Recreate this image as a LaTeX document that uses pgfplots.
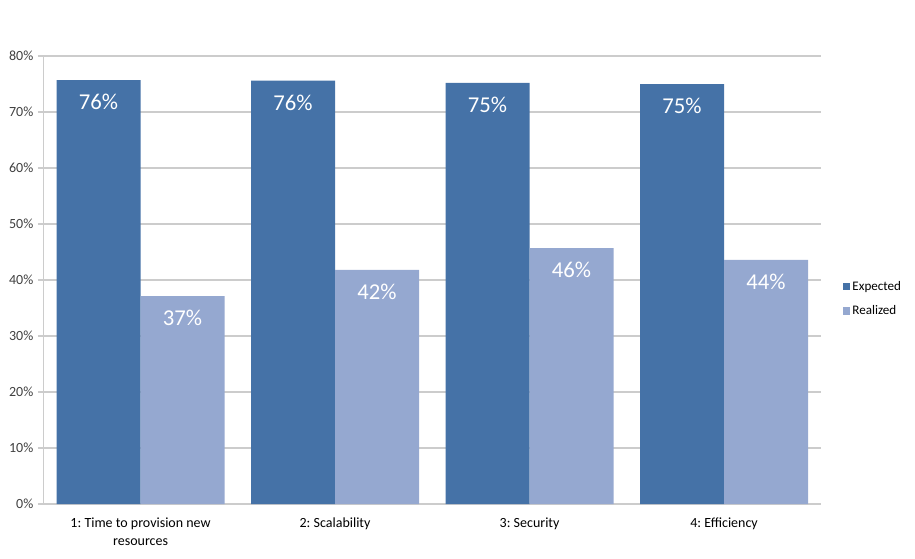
\documentclass[border=0pt]{standalone}
\usepackage{pgfplots}
\pgfplotsset{compat=1.18}
\usepackage{fontspec}
\setmainfont{Carlito}
\frenchspacing
\definecolor{expc}{RGB}{69,114,167}
\definecolor{realc}{RGB}{149,168,208}
\definecolor{gridc}{RGB}{204,204,204}
\definecolor{txtc}{RGB}{64,64,64}
\begin{document}
\begin{tikzpicture}[x=1pt,y=1pt]
\useasboundingbox (0,0) rectangle (686.25,418.5);
\begin{axis}[
    at={(32.5pt,40.5pt)}, anchor=south west,
    scale only axis, width=583.5pt, height=336pt,
    ybar=0pt, bar width=63pt,
    xmin=-0.5, xmax=3.5, ymin=0, ymax=80,
    axis x line*=bottom, axis y line*=left,
    axis line style={gridc, line width=0.9pt},
    every outer x axis line/.append style={-}, every outer y axis line/.append style={-},
    xtick={0,1,2,3},
    xticklabels={{1: Time to provision new\\resources}, 2: Scalability, 3: Security, 4: Efficiency},
    xticklabel style={align=center, font=\fontsize{10.5}{13.5}\selectfont, text=black, yshift=-3pt},
    major x tick style={draw=none},
    extra x ticks={-0.5,0.5,1.5,2.5,3.5}, extra x tick labels={},
    extra x tick style={major tick length=4pt, tick align=outside, tick style={gridc, line width=0.9pt}, grid=none},
    ytick={0,10,...,80},
    yticklabels={0\%,10\%,20\%,30\%,40\%,50\%,60\%,70\%,80\%},
    yticklabel style={font=\fontsize{10.5}{12}\selectfont, text=txtc},
    major tick length=4pt, tick align=outside,
    y tick style={gridc, line width=0.9pt},
    ymajorgrids, grid style={gridc, line width=0.9pt},
    nodes near coords={\pgfmathprintnumber[fixed,precision=0,assume math mode=true]{\pgfplotspointmeta}\%},
    every node near coord/.append style={anchor=center, yshift=-16.5pt, text=white, font=\fontsize{17}{20}\selectfont},
    legend style={draw=none, fill=none, at={(1.027,0.4576)}, anchor=west,
        font=\fontsize{9.8}{11}\selectfont, row sep=6pt, inner sep=0pt},
    legend cell align=left,
    legend image code/.code={\fill[#1] (0pt,-2.6pt) rectangle (5.4pt,2.8pt);},
]
\addplot[fill=expc, draw=none] coordinates {(0,75.7) (1,75.6) (2,75.2) (3,75.0)};
\addplot[fill=realc, draw=none] coordinates {(0,37.1) (1,41.8) (2,45.7) (3,43.6)};
\legend{Expected, Realized}
\end{axis}
\end{tikzpicture}
\end{document}
